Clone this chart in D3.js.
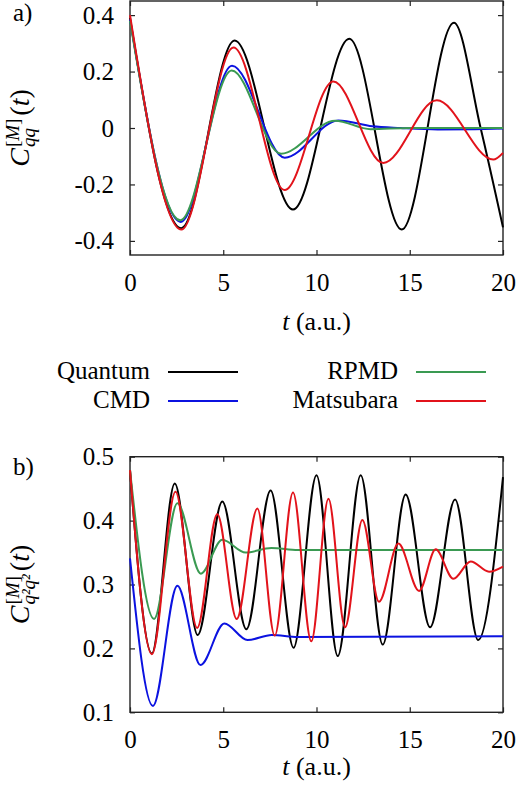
<!DOCTYPE html>
<html>
<head>
<meta charset="utf-8">
<script src="https://cdn.jsdelivr.net/npm/d3@7"></script>
<style>
  body { margin: 0; background: #fff; }
  svg text { font-family: "Liberation Serif", "Times New Roman", serif; fill: #000; }
</style>
</head>
<body>
<div id="chart"></div>
<script>
// shared time axis
const timeTicks = [0, 5, 10, 15, 20];
const qqTicks = [-0.4, -0.2, 0, 0.2, 0.4];
const q2Ticks = [0.1, 0.2, 0.3, 0.4, 0.5];
const methods = ['Quantum', 'CMD', 'RPMD', 'Matsubara'];

// panel a) C_qq, [t, value] read at the turning points
const qqQuantum = [[0, 0.39], [2.75, -0.355], [5.61, 0.31], [8.74, -0.289], [11.76, 0.316],
  [14.57, -0.36], [17.37, 0.373], [18.8, 0.0], [20, -0.352]];
const qqCMD = [[0, 0.385], [2.72, -0.333], [5.47, 0.221], [8.3, -0.105], [11.17, 0.027],
  [13.0, 0.006], [14.5, 0.0], [16.5, -0.005], [18.5, -0.004], [20, -0.002]];
const qqRPMD = [[0, 0.38], [2.7, -0.327], [5.45, 0.204], [8.1, -0.091], [11.0, 0.026],
  [12.9, -0.004], [15, 0.0], [20, 0.0]];
const qqMatsubara = [[0, 0.40], [2.75, -0.36], [5.55, 0.285], [8.29, -0.22], [10.9, 0.165],
  [13.58, -0.124], [16.45, 0.098], [19.48, -0.112], [20, -0.088]];

// panel b) C_q2q2
const q2Quantum = [[0, 0.479], [1.17, 0.192], [2.4, 0.458], [3.63, 0.221], [4.95, 0.430],
  [6.24, 0.230], [7.54, 0.447], [8.77, 0.201], [10.0, 0.471], [11.14, 0.188], [12.37, 0.471],
  [13.55, 0.206], [14.78, 0.441], [16.09, 0.233], [17.43, 0.433], [18.67, 0.213], [20, 0.468]];
const q2CMD = [[0, 0.341], [1.23, 0.110], [2.54, 0.298], [3.78, 0.174], [5.06, 0.239],
  [6.3, 0.213], [7.6, 0.221], [9.0, 0.218], [20, 0.219]];
const q2RPMD = [[0, 0.479], [1.29, 0.246], [2.54, 0.427], [3.8, 0.317], [4.95, 0.370],
  [6.2, 0.350], [7.58, 0.357], [9.0, 0.354], [20, 0.354]];
const q2Matsubara = [[0, 0.479], [1.17, 0.191], [2.44, 0.445], [3.6, 0.232], [4.68, 0.410],
  [5.72, 0.246], [6.83, 0.419], [7.76, 0.220], [8.74, 0.444], [9.72, 0.211], [10.64, 0.434],
  [11.53, 0.233], [12.46, 0.401], [13.35, 0.273], [14.39, 0.364], [15.5, 0.290], [16.39, 0.355],
  [17.34, 0.309], [18.27, 0.336], [19.25, 0.320], [20, 0.328]];

const colors = {Quantum: '#000000', CMD: '#0b12e0', RPMD: '#3a9a52', Matsubara: '#e2131b'};

const width = 520, height = 793;
const svg = d3.select('#chart').append('svg')
    .attr('width', width)
    .attr('height', height);

function drawPanel(cfg) {
  const x = d3.scaleLinear().domain([0, 20]).range([cfg.left, cfg.right]);
  const y = d3.scaleLinear().domain(cfg.yDomain).range([cfg.bottom, cfg.top]);
  const g = svg.append('g');

  // inward ticks on all four sides, gnuplot style
  g.append('g')
      .attr('transform', `translate(0,${cfg.bottom})`)
      .call(d3.axisBottom(x).tickValues(timeTicks).tickSize(-5).tickSizeOuter(0)
        .tickPadding(18).tickFormat(d3.format('d')));
  g.append('g')
      .attr('transform', `translate(0,${cfg.top})`)
      .call(d3.axisTop(x).tickValues(timeTicks).tickSize(-5).tickSizeOuter(0).tickFormat(''));
  g.append('g')
      .attr('transform', `translate(${cfg.left},0)`)
      .call(d3.axisLeft(y).tickValues(cfg.yTicks).tickSize(-5).tickSizeOuter(0)
        .tickPadding(16).tickFormat(d => d === 0 ? '0' : d3.format('.1f')(d).replace('−', '-')));
  g.append('g')
      .attr('transform', `translate(${cfg.right},0)`)
      .call(d3.axisRight(y).tickValues(cfg.yTicks).tickSize(-5).tickSizeOuter(0).tickFormat(''));

  g.selectAll('.domain').remove();
  g.selectAll('.tick line').attr('stroke', '#222').attr('stroke-width', 1.2);
  g.selectAll('.tick text').style('font-size', '25px').attr('fill', '#000');

  g.append('rect')
      .attr('x', cfg.left).attr('y', cfg.top)
      .attr('width', cfg.right - cfg.left).attr('height', cfg.bottom - cfg.top)
      .attr('fill', 'none').attr('stroke', '#222').attr('stroke-width', 1.4);

  const line = d3.line()
      .x(d => x(d[0]))
      .y(d => y(d[1]))
      .curve(d3.curveMonotoneX);

  g.selectAll('.series')
      .data(cfg.series)
    .join('path')
      .attr('class', 'series')
      .attr('d', d => line(d.values))
      .attr('fill', 'none')
      .attr('stroke', d => colors[d.name])
      .attr('stroke-width', 2)
      .attr('stroke-linejoin', 'round');

  // x label
  const xl = g.append('text')
      .attr('x', x(10))
      .attr('y', cfg.bottom + cfg.xLabelOffset)
      .attr('text-anchor', 'middle')
      .style('font-size', '26px');
  xl.append('tspan').style('font-style', 'italic').text('t');
  xl.append('tspan').text(' (a.u.)');

  // panel letter
  g.append('text')
      .attr('x', 13)
      .attr('y', cfg.top + cfg.letterOffset)
      .style('font-size', '25px')
      .text(cfg.letter);

  yLabel(cfg.sub, 29, (cfg.top + cfg.bottom) / 2);
}

// C^{[M]}_{sub}(t), rotated, built from tspans
function yLabel(sub, bx, cy) {
  const t = svg.append('text')
      .attr('transform', `translate(${bx},${cy}) rotate(-90)`)
      .style('font-size', '28px');
  const c = t.append('tspan').style('font-style', 'italic').text('C');
  const sup = t.append('tspan').attr('dx', 1).attr('dy', -10).style('font-size', '19px');
  sup.append('tspan').text('[');
  sup.append('tspan').style('font-style', 'italic').text('M');
  sup.append('tspan').text(']');
  const supW = sup.node().getComputedTextLength();
  const s = t.append('tspan')
      .attr('dx', -supW)
      .attr('dy', 16)
      .style('font-size', '19px')
      .style('font-style', 'italic')
      .text(sub);
  const subW = s.node().getComputedTextLength();
  const rest = t.append('tspan').attr('dx', Math.max(supW - subW, 0) + 3).attr('dy', -6);
  rest.append('tspan').text('(');
  rest.append('tspan').style('font-style', 'italic').text('t');
  rest.append('tspan').text(')');
  const total = c.node().getComputedTextLength() + Math.max(supW, subW) + 4 +
      rest.node().getComputedTextLength();
  c.attr('x', -total / 2);
}

drawPanel({
  letter: 'a)', letterOffset: 20,
  left: 130, right: 503, top: 1, bottom: 255,
  yDomain: [-0.45, 0.45], yTicks: qqTicks,
  xLabelOffset: 75, sub: 'qq',
  series: [
    {name: 'Quantum', values: qqQuantum},
    {name: 'CMD', values: qqCMD},
    {name: 'RPMD', values: qqRPMD},
    {name: 'Matsubara', values: qqMatsubara}
  ]
});

drawPanel({
  letter: 'b)', letterOffset: 18,
  left: 130, right: 503, top: 456.7, bottom: 712.3,
  yDomain: [0.1, 0.5], yTicks: q2Ticks,
  xLabelOffset: 63, sub: 'q²q²',
  series: [
    {name: 'Quantum', values: q2Quantum},
    {name: 'CMD', values: q2CMD},
    {name: 'RPMD', values: q2RPMD},
    {name: 'Matsubara', values: q2Matsubara}
  ]
});

// legend, two columns, text right-aligned before the sample line
const legendX = d3.scaleOrdinal().domain(methods).range([150, 150, 398, 398]);
const legendY = d3.scaleOrdinal().domain(methods).range([372, 401, 372, 401]);
const legend = svg.append('g')
  .selectAll('g')
  .data(methods)
  .join('g')
    .attr('transform', d => `translate(${legendX(d)},${legendY(d)})`);
legend.append('text')
    .attr('text-anchor', 'end')
    .attr('y', 7)
    .style('font-size', '25px')
    .text(d => d);
legend.append('line')
    .attr('x1', 18).attr('x2', 88)
    .attr('stroke', d => colors[d])
    .attr('stroke-width', 2);
</script>
</body>
</html>
